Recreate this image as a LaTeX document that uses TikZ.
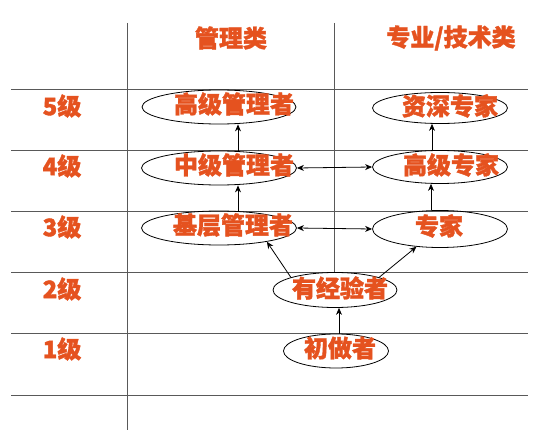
\documentclass[tikz,border=0pt]{standalone}
\usepackage{fontspec}
\usetikzlibrary{shapes.geometric,arrows.meta}
\newfontfamily\cjk{Noto Sans CJK SC}[BoldFeatures={FakeBold=1.5}]
\definecolor{hdred}{RGB}{229,82,31}
\tikzset{
  grid/.style={draw=black!65,line width=0.8pt},
  hd/.style={text=hdred,font=\cjk\bfseries\fontsize{24}{24}\selectfont},
  role/.style={draw,ellipse,line width=0.8pt,inner sep=0pt,minimum height=34pt,minimum width=#1},
  link/.style={line width=0.8pt},
}
\begin{document}
\begin{tikzpicture}[x=1pt,y=-1pt,>={Stealth[length=7pt,width=6pt]}]
  \useasboundingbox (0,0) rectangle (550,436);
  % table lines
  \draw[grid] (11,89) -- (528,89);
  \draw[grid] (11,150) -- (528,150);
  \draw[grid] (11,211) -- (528,211);
  \draw[grid] (11,272) -- (528,272);
  \draw[grid] (11,333) -- (528,333);
  \draw[grid] (11,395) -- (528,395);
  \draw[grid] (127,23) -- (127,430);
  \draw[grid] (334,23) -- (334,272);
  % headers and levels
  \node[hd] (hm) at (231,38) {管理类};
  \node[hd] (hp) at (451,38) {专业/技术类};
  \node[hd] (l5) at (62,106) {5级};
  \node[hd] (l4) at (62,166) {4级};
  \node[hd] (l3) at (62,227) {3级};
  \node[hd] (l2) at (62,289) {2级};
  \node[hd] (l1) at (62,349) {1级};
  % roles
  \node[role=154pt,label={[hd,xshift=15pt,yshift=3pt]center:高级管理者}] (gm5) at (219,107) {};
  \node[role=155pt,label={[hd,xshift=15pt,yshift=3pt]center:中级管理者}] (gm4) at (219,168) {};
  \node[role=155pt,label={[hd,xshift=14pt,yshift=3pt]center:基层管理者}] (gm3) at (219,228) {};
  \node[role=135pt,minimum height=31pt,label={[hd,xshift=10pt,yshift=2pt]center:资深专家}] (zj5) at (440,108) {};
  \node[role=135pt,minimum height=33pt,label={[hd,xshift=11pt,yshift=2pt]center:高级专家}] (zj4) at (440,167) {};
  \node[role=135pt,minimum height=37pt,label={[hd,xshift=-1pt,yshift=3pt]center:专家}] (zj3) at (440,229) {};
  \node[role=124pt,minimum height=35pt,label={[hd,xshift=5pt,yshift=2pt]center:有经验者}] (jy) at (335,290) {};
  \node[role=105pt,label={[hd,xshift=4pt,yshift=3pt]center:初做者}] (cz) at (336,351) {};
  % paths
  \draw[link,->] ([xshift=3pt]cz.north) -- ([xshift=4pt]jy.south);
  \draw[link,->] (jy.164) -- (gm3.-16);
  \draw[link,->] (jy.16) -- (zj3.217);
  \draw[link,->] ([xshift=19pt]gm3.north) -- ([xshift=19pt]gm4.south);
  \draw[link,->] ([xshift=19pt]gm4.north) -- ([xshift=19pt]gm5.south);
  \draw[link,->] ([xshift=-9pt]zj3.north) -- ([xshift=-9pt]zj4.south);
  \draw[link,->] ([xshift=-8pt]zj4.north) -- ([xshift=-8pt]zj5.south);
  \draw[link,<->] (gm4.east) -- (zj4.west);
  \draw[link,<->] (gm3.east) -- (zj3.west);
\end{tikzpicture}
\end{document}
